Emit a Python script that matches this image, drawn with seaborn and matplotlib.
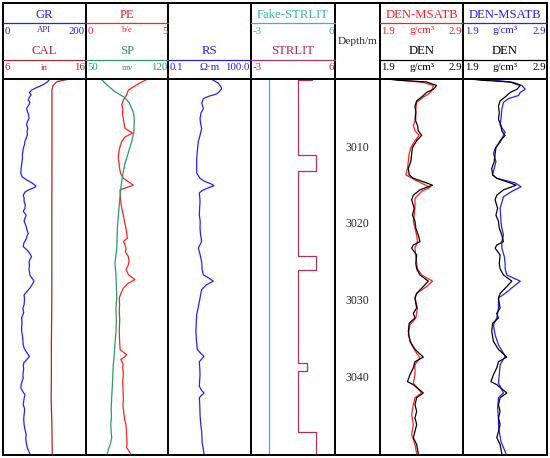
import numpy as np
import matplotlib
matplotlib.use("Agg")
import matplotlib.pyplot as plt
import seaborn as sns

# depth window of the section (m)
top_depth = 3001.0
bottom_depth = 3050.0
depth_marks = [3010, 3020, 3030, 3040]

# GR (API)
gr_depth = [3001.0, 3001.4, 3001.8, 3002.2, 3002.5, 3002.8, 3003.1, 3003.4, 3003.8, 3004.1,
            3004.4, 3004.9, 3005.3, 3005.7, 3006.2, 3006.6, 3007.0, 3007.5, 3007.9, 3008.3,
            3008.8, 3009.2, 3009.6, 3010.1, 3010.5, 3010.9, 3011.4, 3011.8, 3012.2, 3012.7,
            3013.3, 3013.8, 3014.2, 3014.6, 3015.0, 3015.2, 3015.5, 3015.8, 3016.2, 3016.6,
            3017.0, 3017.5, 3017.9, 3018.3, 3018.8, 3019.2, 3019.6, 3020.1, 3020.5, 3020.9,
            3021.2, 3021.5, 3021.8, 3022.2, 3022.5, 3022.9, 3023.2, 3023.5, 3023.9, 3024.2,
            3024.6, 3024.9, 3025.3, 3025.9, 3026.6, 3027.0, 3027.4, 3027.9, 3028.3, 3028.8,
            3029.2, 3029.8, 3030.5, 3030.9, 3031.5, 3032.2, 3032.8, 3033.4, 3033.9, 3034.5,
            3035.1, 3035.7, 3036.1, 3036.5, 3036.9, 3037.2, 3037.6, 3038.0, 3038.3, 3038.9,
            3039.6, 3040.0, 3040.5, 3040.9, 3041.3, 3041.8, 3042.2, 3042.7, 3043.1, 3043.5,
            3044.0, 3044.4, 3044.8, 3045.4, 3046.1, 3046.7, 3047.4, 3048.0, 3048.7, 3049.3,
            3049.9]
gr = [114, 108, 97, 80, 69, 64, 68, 64, 61, 65,
      63, 57, 59, 62, 63, 59, 57, 60, 58, 59,
      56, 53, 52, 49, 48, 47, 47, 46, 45, 44,
      43, 46, 57, 70, 80, 76, 62, 53, 49, 51,
      51, 54, 53, 49, 56, 53, 51, 55, 57, 59,
      61, 58, 57, 53, 50, 49, 55, 61, 66, 69,
      65, 63, 64, 63, 65, 70, 75, 70, 65, 57,
      51, 52, 51, 48, 50, 45, 46, 45, 45, 47,
      48, 49, 51, 55, 60, 64, 58, 51, 49, 50,
      48, 49, 46, 44, 43, 48, 53, 51, 50, 49,
      52, 52, 51, 50, 51, 53, 56, 55, 57, 60,
      65]

# CAL (in)
cal_depth = [3001.0, 3001.4, 3001.9, 3002.5, 3010.0, 3020.0, 3030.0, 3036.0, 3040.0, 3043.0, 3045.5, 3049.9]
cal = [14.3, 12.5, 12.05, 11.92, 11.92, 11.9, 11.9, 11.85, 11.85, 11.82, 11.9, 11.96]

# PE (b/e)
pe_depth = [3001.0, 3001.8, 3002.5, 3003.1, 3003.8, 3004.4, 3005.0, 3005.6, 3006.2, 3006.9,
            3007.5, 3008.1, 3008.6, 3009.2, 3010.1, 3010.8, 3011.4, 3012.0, 3012.7, 3013.4,
            3014.0, 3014.6, 3014.9, 3015.5, 3016.2, 3017.0, 3017.9, 3018.8, 3019.6, 3020.5,
            3021.2, 3021.8, 3022.2, 3022.6, 3023.1, 3023.6, 3024.2, 3024.7, 3025.3, 3025.9,
            3026.6, 3027.2, 3027.7, 3028.3, 3028.9, 3029.6, 3030.5, 3031.3, 3032.4, 3033.9,
            3035.0, 3036.3, 3036.7, 3037.0, 3037.3, 3037.6, 3038.2, 3038.7, 3039.5, 3040.5,
            3041.5, 3042.6, 3043.7, 3044.8, 3045.5, 3046.1, 3046.8, 3047.8, 3048.5, 3049.1,
            3049.9]
pe = [3.79, 3.09, 2.58, 2.48, 2.28, 2.18, 2.25, 2.22, 2.28, 2.32,
      2.38, 2.84, 2.38, 2.18, 2.05, 1.99, 1.97, 2.02, 2.05, 2.12,
      2.28, 2.70, 2.88, 2.08, 2.10, 2.12, 2.18, 2.28, 2.34, 2.44,
      2.48, 2.52, 2.30, 2.36, 2.44, 2.40, 2.58, 2.62, 2.58, 2.44,
      2.60, 2.98, 2.55, 2.28, 2.15, 2.03, 2.05, 2.03, 2.06, 2.03,
      2.05, 2.08, 2.30, 2.48, 2.35, 2.12, 2.26, 2.24, 2.28, 2.24,
      2.26, 2.28, 2.26, 2.32, 2.36, 2.44, 2.46, 2.48, 2.50, 2.48,
      2.72]

# SP (mv)
sp_depth = [3001.0, 3001.8, 3002.7, 3003.5, 3004.2, 3004.9, 3005.5, 3006.2, 3007.0, 3007.9,
            3009.2, 3010.3, 3011.4, 3012.2, 3013.1, 3014.4, 3015.6, 3016.8, 3017.9, 3019.2,
            3020.5, 3021.8, 3023.1, 3024.1, 3025.1, 3026.5, 3028.0, 3029.6, 3031.0, 3032.5,
            3034.0, 3035.5, 3037.0, 3038.3, 3039.5, 3041.0, 3042.6, 3044.0, 3045.2, 3046.1,
            3047.0, 3047.8, 3048.6, 3049.2, 3049.9]
sp = [62.7, 67.8, 74.8, 83.3, 87.0, 89.0, 90.5, 91.2, 91.0, 90.9,
      89.0, 86.8, 84.7, 83.0, 81.9, 80.5, 79.6, 78.8, 78.2, 77.5,
      76.8, 76.6, 76.3, 75.5, 74.8, 75.6, 76.0, 76.3, 75.6, 76.0,
      75.7, 74.8, 74.2, 73.4, 73.0, 72.6, 72.0, 71.6, 71.8, 71.2,
      71.6, 72.0, 71.0, 69.5, 68.3]

# RS (ohm.m)
rs_depth = [3001.0, 3001.3, 3001.6, 3002.0, 3002.3, 3002.7, 3003.0, 3003.3, 3003.6, 3004.2,
            3004.9, 3005.5, 3006.2, 3006.9, 3007.5, 3008.3, 3009.2, 3010.3, 3011.4, 3012.4,
            3013.3, 3014.0, 3014.4, 3014.7, 3014.95, 3015.3, 3015.6, 3015.9, 3016.5, 3017.0,
            3017.9, 3018.8, 3019.6, 3020.5, 3021.4, 3022.2, 3023.1, 3024.0, 3024.9, 3025.9,
            3026.6, 3027.0, 3027.4, 3027.9, 3028.5, 3029.6, 3030.7, 3031.8, 3032.9, 3033.9,
            3035.0, 3036.3, 3036.8, 3037.2, 3037.6, 3037.9, 3038.8, 3039.6, 3040.4, 3041.1,
            3041.6, 3041.98, 3042.3, 3042.6, 3043.6, 3044.8, 3045.9, 3047.0, 3048.4, 3049.9]
rs = [3.3, 4.8, 6.6, 8.0, 8.8, 7.2, 5.8, 3.0, 1.9, 1.64,
      1.9, 1.55, 1.43, 1.5, 1.64, 1.45, 1.24, 1.15, 1.08, 1.08,
      1.08, 1.43, 2.1, 3.5, 4.6, 2.6, 1.7, 1.35, 1.4, 1.43,
      1.38, 1.35, 1.45, 1.43, 1.5, 1.64, 1.24, 1.45, 1.64, 1.7,
      1.9, 3.0, 4.35, 2.4, 1.64, 1.43, 1.25, 1.08, 1.04, 1.01,
      1.05, 1.14, 1.5, 2.0, 1.6, 1.35, 1.4, 1.43, 1.38, 1.35,
      1.6, 2.0, 1.6, 1.35, 1.4, 1.43, 1.5, 1.64, 1.7, 2.0]

# lithology codes
fake_depth = [3001.0, 3050.0]
fake_strlit = [-1, -1]
strlit_depth = [3001.0, 3001.15, 3011.0, 3013.0, 3024.1, 3026.0, 3038.1, 3039.1, 3047.1, 3050.0]
strlit = [3.5, 2, 4, 2, 4, 2, 3, 2, 4, 4]

# measured density (g/cm3)
den_depth = [3001.0, 3001.2, 3001.44, 3001.9, 3002.4, 3002.8, 3003.4, 3003.9, 3004.6, 3005.4,
             3006.3, 3007.1, 3007.8, 3008.4, 3009.1, 3010.0, 3010.8, 3011.8, 3012.7, 3013.55,
             3014.0, 3014.6, 3014.9, 3015.5, 3016.2, 3016.8, 3017.9, 3018.8, 3019.6, 3020.5,
             3021.4, 3022.25, 3022.7, 3023.1, 3024.0, 3025.1, 3025.8, 3026.6, 3027.4, 3028.1,
             3029.0, 3029.6, 3030.3, 3030.9, 3031.6, 3032.2, 3032.9, 3033.95, 3035.25, 3036.3,
             3037.3, 3037.9, 3038.7, 3039.6, 3040.5, 3040.9, 3041.98, 3042.6, 3043.5, 3044.4,
             3045.2, 3046.1, 3047.0, 3047.8, 3048.7, 3049.9]
den = [1.96, 2.10, 2.46, 2.58, 2.54, 2.46, 2.40, 2.34, 2.32, 2.33,
       2.32, 2.35, 2.36, 2.40, 2.34, 2.29, 2.28, 2.27, 2.24, 2.25,
       2.30, 2.46, 2.53, 2.38, 2.30, 2.28, 2.31, 2.29, 2.32, 2.33,
       2.36, 2.38, 2.30, 2.28, 2.34, 2.33, 2.34, 2.38, 2.48, 2.42,
       2.34, 2.32, 2.33, 2.34, 2.30, 2.32, 2.25, 2.24, 2.26, 2.32,
       2.42, 2.32, 2.30, 2.26, 2.23, 2.30, 2.42, 2.34, 2.32, 2.34,
       2.32, 2.34, 2.32, 2.30, 2.34, 2.36]

# predicted density, model 1 (red)
msatb1_depth = [3001.0, 3001.2, 3001.5, 3001.9, 3002.6, 3003.05, 3003.4, 3004.1, 3005.0, 3006.3,
                3007.1, 3007.8, 3008.4, 3009.1, 3010.0, 3010.8, 3011.8, 3012.7, 3013.55, 3014.2,
                3014.85, 3015.2, 3015.7, 3016.6, 3017.9, 3018.8, 3019.6, 3020.5, 3021.4, 3022.25,
                3023.1, 3024.2, 3025.1, 3025.8, 3026.6, 3027.4, 3028.1, 3029.0, 3029.6, 3030.9,
                3032.2, 3033.1, 3034.4, 3035.7, 3036.8, 3037.4, 3038.3, 3039.6, 3040.7, 3041.98,
                3042.6, 3043.5, 3044.8, 3046.1, 3047.4, 3048.7, 3049.9]
msatb1 = [2.00, 2.15, 2.42, 2.54, 2.52, 2.48, 2.42, 2.34, 2.33, 2.33,
          2.30, 2.32, 2.37, 2.32, 2.27, 2.25, 2.24, 2.23, 2.21, 2.32,
          2.44, 2.50, 2.40, 2.32, 2.32, 2.31, 2.30, 2.32, 2.34, 2.35,
          2.32, 2.33, 2.34, 2.35, 2.40, 2.53, 2.46, 2.34, 2.32, 2.35,
          2.33, 2.26, 2.24, 2.28, 2.34, 2.38, 2.32, 2.32, 2.30, 2.40,
          2.32, 2.30, 2.28, 2.30, 2.28, 2.32, 2.34]

# predicted density, model 2 (blue)
msatb2_depth = [3001.0, 3001.2, 3001.5, 3001.9, 3002.4, 3002.8, 3003.2, 3003.6, 3004.1, 3005.0,
                3006.3, 3007.1, 3008.0, 3008.4, 3009.3, 3010.1, 3010.8, 3011.8, 3012.7, 3013.55,
                3014.0, 3014.6, 3015.1, 3015.7, 3016.4, 3017.9, 3019.6, 3020.5, 3021.4, 3022.25,
                3023.1, 3024.2, 3025.1, 3025.8, 3026.6, 3027.4, 3028.1, 3029.0, 3029.6, 3030.9,
                3032.2, 3033.1, 3034.4, 3035.7, 3037.2, 3038.3, 3039.6, 3040.7, 3041.98, 3042.6,
                3043.9, 3045.2, 3046.1, 3047.0, 3048.3, 3049.9]
msatb2 = [2.12, 2.26, 2.50, 2.60, 2.64, 2.58, 2.56, 2.44, 2.38, 2.36,
          2.35, 2.34, 2.40, 2.38, 2.34, 2.28, 2.26, 2.29, 2.27, 2.25,
          2.30, 2.52, 2.59, 2.48, 2.38, 2.34, 2.35, 2.36, 2.38, 2.36,
          2.36, 2.39, 2.40, 2.40, 2.42, 2.58, 2.50, 2.40, 2.32, 2.32,
          2.30, 2.26, 2.28, 2.32, 2.40, 2.34, 2.33, 2.32, 2.38, 2.32,
          2.31, 2.32, 2.32, 2.33, 2.35, 2.41]

BLUE = '#2222ff'
CAL_C = '#a8282e'
RED = '#ff2222'
GREEN = '#2a9a68'
TEAL = '#3ab5b8'
MAROON = '#b0305f'

sns.set_theme(style='white')
plt.rcParams['font.family'] = ['Liberation Serif', 'DejaVu Serif']

W, H = 550, 458
fig = plt.figure(figsize=(W / 100, H / 100), dpi=100)

# track borders in pixels
xs = [3, 85.7, 168.3, 250.7, 335, 380, 463.3, 547]
y_top, y_head, y_bot = 3, 78.6, 454.5


def track(i):
    x0, x1 = xs[i], xs[i + 1]
    ax = fig.add_axes([x0 / W, 1 - y_bot / H, (x1 - x0) / W, (y_bot - y_head) / H])
    return ax


def curve(ax, x, y, color, xlim, log=False, **kw):
    sns.lineplot(x=np.array(x), y=np.array(y), ax=ax, orient='y', sort=False,
                 estimator=None, color=color, lw=0.9, **kw)
    if log:
        ax.set_xscale('log')
    ax.set_xlim(*xlim)
    ax.set_ylim(bottom_depth, top_depth)
    ax.axis('off')


ax = track(0)
curve(ax, gr, gr_depth, BLUE, (0, 200))
curve(ax.twiny(), cal, cal_depth, CAL_C, (6, 16))

ax = track(1)
curve(ax, pe, pe_depth, RED, (0, 5))
curve(ax.twiny(), sp, sp_depth, GREEN, (50, 120))

ax = track(2)
curve(ax, rs, rs_depth, BLUE, (0.1, 100), log=True)

ax = track(3)
curve(ax, fake_strlit, fake_depth, TEAL, (-3, 6))
curve(ax.twiny(), strlit, strlit_depth, MAROON, (-3, 6), drawstyle='steps-pre')

ax = track(4)
ax.set_ylim(bottom_depth, top_depth)
ax.axis('off')
for d in depth_marks:
    ax.text(0.5, d, str(d), transform=ax.get_yaxis_transform(), ha='center', va='center', fontsize=8.5)

ax = track(5)
curve(ax, msatb1, msatb1_depth, RED, (1.9, 2.9))
curve(ax.twiny(), den, den_depth, 'black', (1.9, 2.9))

ax = track(6)
curve(ax, msatb2, msatb2_depth, BLUE, (1.9, 2.9))
curve(ax.twiny(), den, den_depth, 'black', (1.9, 2.9))

# header + grid, drawn in pixel coordinates over everything
hd = fig.add_axes([0, 0, 1, 1])
hd.set_xlim(0, W)
hd.set_ylim(H, 0)
hd.axis('off')
hd.set_zorder(10)

for x in xs:
    hd.plot([x, x], [y_top, y_bot], color='black', lw=1.4)
for y in [y_top, y_head, y_bot]:
    hd.plot([xs[0], xs[-1]], [y, y], color='black', lw=1.4)


def header(i, y_line, name, left, unit, right, color, small_unit=True):
    x0, x1 = xs[i], xs[i + 1]
    xm = (x0 + x1) / 2
    hd.text(xm, y_line - 8.5, name, color=color, fontsize=9.2, ha='center', va='center')
    hd.plot([x0, x1], [y_line, y_line], color=color, lw=0.9)
    hd.text(x0 + 1.5, y_line + 8, left, color=color, fontsize=7.8, ha='left', va='center')
    hd.text(xm, y_line + 7.5, unit, color=color, fontsize=6.3 if small_unit else 7.8,
            ha='center', va='center')
    hd.text(x1 - 1, y_line + 8, right, color=color, fontsize=7.8, ha='right', va='center')


header(0, 23, 'GR', '0', 'API', '200', BLUE)
header(0, 60, 'CAL', '6', 'in', '16', CAL_C)
header(1, 23, 'PE', '0', 'b/e', '5', RED)
header(1, 60, 'SP', '50', 'mv', '120', GREEN)
header(2, 60, 'RS', '0.1', 'Ω·m', '100.0', BLUE, small_unit=False)
header(3, 23, 'Fake-STRLIT', '-3', '', '6', TEAL)
header(3, 60, 'STRLIT', '-3', '', '6', MAROON)
header(5, 23, 'DEN-MSATB', '1.9', 'g/cm³', '2.9', RED, small_unit=False)
header(5, 60, 'DEN', '1.9', 'g/cm³', '2.9', 'black', small_unit=False)
header(6, 23, 'DEN-MSATB', '1.9', 'g/cm³', '2.9', BLUE, small_unit=False)
header(6, 60, 'DEN', '1.9', 'g/cm³', '2.9', 'black', small_unit=False)
hd.text((xs[4] + xs[5]) / 2, 42, 'Depth/m', fontsize=8.2, ha='center', va='center')

fig.savefig('out.png', dpi=100)
